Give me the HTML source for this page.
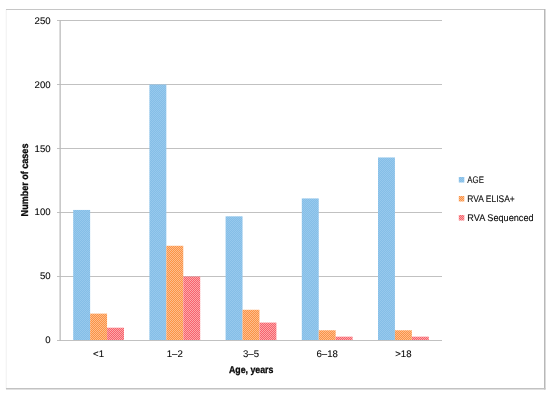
<!DOCTYPE html>
<html lang="en"><head><meta charset="utf-8"><title>Number of cases by age</title>
<style>html,body{margin:0;padding:0;background:#fff}body{width:550px;height:396px;overflow:hidden}svg{display:block}text{font-family:"Liberation Sans",sans-serif;fill:#0a0a0a;stroke:#0a0a0a;stroke-width:.1px;text-rendering:geometricPrecision}</style>
</head><body>
<svg width="550" height="396" viewBox="0 0 550 396">
<defs>
<pattern id="pa" width="2" height="2" patternUnits="userSpaceOnUse"><rect width="2" height="2" fill="#85bee7"/><rect width="1" height="1" fill="#97c9ed"/><rect x="1" y="1" width="1" height="1" fill="#97c9ed"/></pattern>
<pattern id="pe" width="2" height="2" patternUnits="userSpaceOnUse"><rect width="2" height="2" fill="#fb9444"/><rect width="1" height="1" fill="#fdbc8e"/><rect x="1" y="1" width="1" height="1" fill="#fdbc8e"/></pattern>
<pattern id="ps" width="2" height="2" patternUnits="userSpaceOnUse"><rect width="2" height="2" fill="#f8626c"/><rect width="1" height="1" fill="#fba8aa"/><rect x="1" y="1" width="1" height="1" fill="#fba8aa"/></pattern>
</defs>
<rect width="550" height="396" fill="#fff"/>
<line x1="6.2" y1="9.5" x2="6.2" y2="389" stroke="#f0f0f0" stroke-width="1"/>
<line x1="6" y1="9.5" x2="545" y2="9.5" stroke="#c6c6c6" stroke-width="1"/>
<line x1="544.75" y1="9" x2="544.75" y2="389.5" stroke="#b8b8b8" stroke-width="1.5"/>
<line x1="6" y1="388.75" x2="545.5" y2="388.75" stroke="#c2c2c2" stroke-width="1.5"/>
<g stroke="#c1c1c1" stroke-width="1" shape-rendering="crispEdges">
<line x1="57" y1="340.5" x2="441.5" y2="340.5"/>
<line x1="57" y1="276.5" x2="441.5" y2="276.5"/>
<line x1="57" y1="212.5" x2="441.5" y2="212.5"/>
<line x1="57" y1="148.5" x2="441.5" y2="148.5"/>
<line x1="57" y1="84.5" x2="441.5" y2="84.5"/>
<line x1="57" y1="20.5" x2="441.5" y2="20.5"/>
</g>
<line x1="60.15" y1="20.0" x2="60.15" y2="341.0" stroke="#bcbcbc" stroke-width="1.3"/>
<rect x="73.20" y="209.94" width="16.93" height="130.06" fill="url(#pa)"/>
<rect x="90.13" y="313.62" width="16.93" height="26.38" fill="url(#pe)"/>
<rect x="107.07" y="327.70" width="16.93" height="12.30" fill="url(#ps)"/>
<rect x="149.40" y="84.50" width="16.93" height="255.50" fill="url(#pa)"/>
<rect x="166.33" y="245.78" width="16.93" height="94.22" fill="url(#pe)"/>
<rect x="183.27" y="276.50" width="16.93" height="63.50" fill="url(#ps)"/>
<rect x="225.60" y="216.34" width="16.93" height="123.66" fill="url(#pa)"/>
<rect x="242.53" y="309.78" width="16.93" height="30.22" fill="url(#pe)"/>
<rect x="259.47" y="322.58" width="16.93" height="17.42" fill="url(#ps)"/>
<rect x="301.80" y="198.42" width="16.93" height="141.58" fill="url(#pa)"/>
<rect x="318.73" y="330.26" width="16.93" height="9.74" fill="url(#pe)"/>
<rect x="335.67" y="336.66" width="16.93" height="3.34" fill="url(#ps)"/>
<rect x="378.00" y="157.46" width="16.93" height="182.54" fill="url(#pa)"/>
<rect x="394.93" y="330.26" width="16.93" height="9.74" fill="url(#pe)"/>
<rect x="411.87" y="336.66" width="16.93" height="3.34" fill="url(#ps)"/>
<g font-size="9.6" text-anchor="end">
<text x="50.6" y="342.8">0</text>
<text x="50.6" y="279.3">50</text>
<text x="50.6" y="215.4">100</text>
<text x="50.6" y="151.7">150</text>
<text x="50.6" y="87.7">200</text>
<text x="50.6" y="24.0">250</text>
</g>
<g font-size="9.6" text-anchor="middle">
<text x="98.6" y="357.3">&lt;1</text>
<text x="174.8" y="357.3">1–2</text>
<text x="251.0" y="357.3">3–5</text>
<text x="327.2" y="357.3">6–18</text>
<text x="403.4" y="357.3">&gt;18</text>
</g>
<text x="251.2" y="372.9" font-size="10" font-weight="bold" style="stroke-width:.3px" text-anchor="middle" textLength="44.4" lengthAdjust="spacingAndGlyphs">Age, years</text>
<text transform="translate(28.4 180) rotate(-90)" font-size="10" font-weight="bold" style="stroke-width:.3px" text-anchor="middle" textLength="72.8" lengthAdjust="spacingAndGlyphs">Number of cases</text>
<rect x="458.8" y="177.0" width="5.5" height="5.5" fill="url(#pa)"/>
<text x="467.3" y="183.3" font-size="9.6" textLength="16.6" lengthAdjust="spacingAndGlyphs">AGE</text>
<rect x="458.8" y="196.0" width="5.5" height="5.5" fill="url(#pe)"/>
<text x="467.3" y="202.3" font-size="9.6" textLength="47.5" lengthAdjust="spacingAndGlyphs">RVA ELISA+</text>
<rect x="458.8" y="215.0" width="5.5" height="5.5" fill="url(#ps)"/>
<text x="467.3" y="221.3" font-size="9.6" textLength="66.3" lengthAdjust="spacingAndGlyphs">RVA Sequenced</text>
</svg>
</body></html>
